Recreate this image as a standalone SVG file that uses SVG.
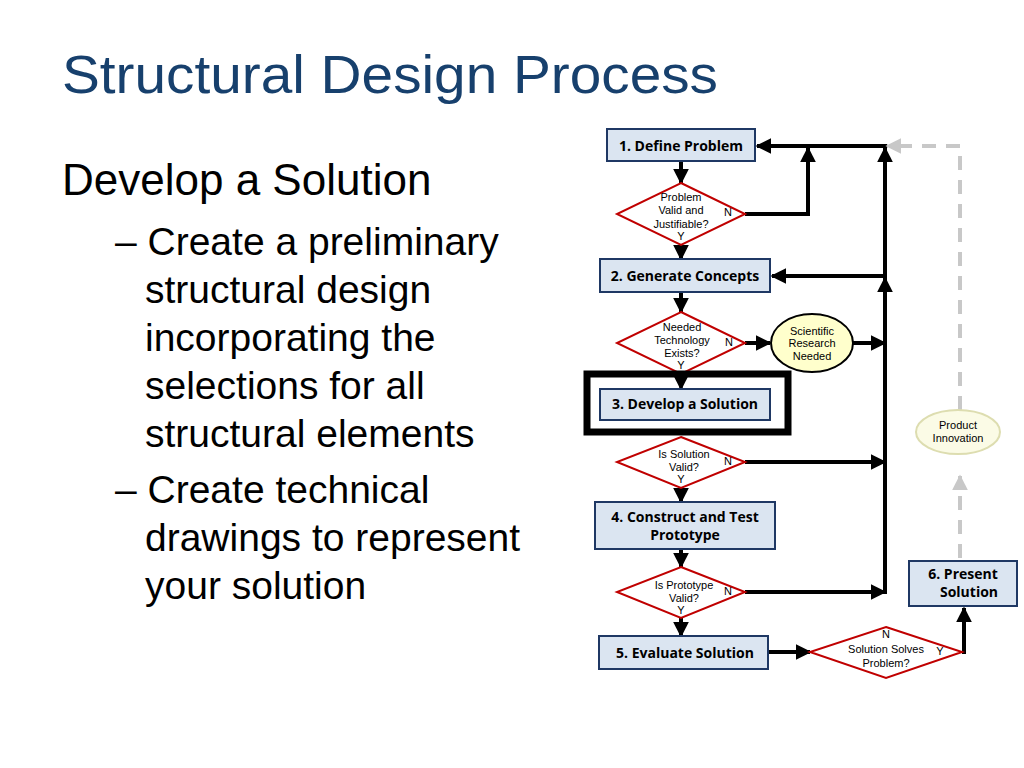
<svg xmlns="http://www.w3.org/2000/svg" width="1024" height="768" viewBox="0 0 1024 768">
<defs>
<marker id="a" viewBox="0 0 10 10" refX="9" refY="5" markerWidth="4" markerHeight="4" orient="auto"><path d="M0,0L10,5L0,10z" fill="#000"/></marker>
<marker id="g" viewBox="0 0 10 10" refX="9" refY="5" markerWidth="4" markerHeight="4" orient="auto"><path d="M0,0L10,5L0,10z" fill="#c8c8c8"/></marker>
<style>
.t{font-family:"Liberation Sans",Arial,sans-serif;fill:#000}
.box{fill:#dbe5f1;stroke:#1f3864;stroke-width:2}
.dia{fill:#fff;stroke:#c00000;stroke-width:2}
.bl{font-family:"Open Sans","Liberation Sans",sans-serif;font-weight:bold;font-size:14px;fill:#000;text-anchor:middle}
.dl{font-family:"Liberation Sans",sans-serif;font-size:11px;fill:#000;text-anchor:middle}
.c{fill:none;stroke:#000;stroke-width:4}
.ca{fill:none;stroke:#000;stroke-width:4;marker-end:url(#a)}
</style>
</defs>
<rect width="1024" height="768" fill="#fff"/>
<text x="62" y="93" font-family="Liberation Sans,Arial,sans-serif" font-size="54" fill="#17406d" textLength="656" lengthAdjust="spacingAndGlyphs">Structural Design Process</text>
<g class="t" font-size="44">
<text x="62" y="195">Develop a Solution</text>
</g>
<g class="t" font-size="39">
<text x="115" y="255">– Create a preliminary</text>
<text x="145" y="303">structural design</text>
<text x="145" y="351">incorporating the</text>
<text x="145" y="399">selections for all</text>
<text x="145" y="447">structural elements</text>
<text x="115" y="503">– Create technical</text>
<text x="145" y="551">drawings to represent</text>
<text x="145" y="599">your solution</text>
</g>
<g id="connectors">
<line class="ca" x1="681" y1="161" x2="681" y2="183"/>
<line class="ca" x1="681" y1="245" x2="681" y2="259"/>
<line class="ca" x1="681" y1="292" x2="681" y2="312"/>
<line x1="681" y1="372" x2="681" y2="389" stroke="#555" stroke-width="4" marker-end="url(#a)"/>
<line class="ca" x1="681" y1="488" x2="681" y2="502"/>
<line class="ca" x1="681" y1="549" x2="681" y2="567"/>
<line class="ca" x1="681" y1="618" x2="681" y2="636"/>
<polyline class="ca" points="745,214 808,214 808,148"/>
<line class="ca" x1="885" y1="146" x2="757" y2="146"/>
<line class="c" x1="885" y1="144" x2="885" y2="594"/>
<line class="ca" x1="885" y1="292" x2="885" y2="148"/>
<line class="ca" x1="885" y1="400" x2="885" y2="278"/>
<line class="ca" x1="885" y1="276" x2="772" y2="276"/>
<line class="ca" x1="745" y1="343" x2="770" y2="343"/>
<line class="ca" x1="853" y1="343" x2="885" y2="343"/>
<line class="ca" x1="745" y1="462" x2="885" y2="462"/>
<line class="ca" x1="745" y1="592" x2="885" y2="592"/>
<line class="ca" x1="768" y1="652" x2="810" y2="652"/>
<polyline class="ca" points="962,652 964,652 964,608"/>
<line x1="960" y1="558" x2="960" y2="476" stroke="#c8c8c8" stroke-width="4" stroke-dasharray="14,10" marker-end="url(#g)"/>
<polyline points="960,410 960,146 887,146" fill="none" stroke="#c8c8c8" stroke-width="4" stroke-dasharray="14,10" marker-end="url(#g)"/>
</g>
<g id="n1"><rect class="box" x="607" y="129" width="148" height="32"/><text class="bl" x="681" y="151">1. Define Problem</text></g>
<g id="d1"><polygon class="dia" points="681,183 745,214 681,245 617,214"/><text class="dl" x="681" y="201">Problem</text><text class="dl" x="681" y="214">Valid and</text><text class="dl" x="681" y="228">Justifiable?</text><text class="dl" x="681" y="240">Y</text><text class="dl" x="728" y="216">N</text></g>
<g id="n2"><rect class="box" x="600" y="259" width="170" height="33"/><text class="bl" x="685" y="281">2. Generate Concepts</text></g>
<g id="d2"><polygon class="dia" points="681,312 745,343 681,374 617,343"/><text class="dl" x="682" y="331">Needed</text><text class="dl" x="682" y="344">Technology</text><text class="dl" x="682" y="357">Exists?</text><text class="dl" x="681" y="369">Y</text><text class="dl" x="729" y="346">N</text></g>
<g id="sr"><ellipse cx="812" cy="343" rx="41" ry="29" fill="#ffffcc" stroke="#000" stroke-width="2"/><text class="dl" x="812" y="335">Scientific</text><text class="dl" x="812" y="347">Research</text><text class="dl" x="812" y="360">Needed</text></g>
<g id="n3"><rect x="587" y="374" width="201" height="58" fill="none" stroke="#000" stroke-width="7"/><rect class="box" x="600" y="389" width="170" height="31" stroke="#4a6a9a"/><text class="bl" x="685" y="409" fill="#222">3. Develop a Solution</text></g>
<g id="d3"><polygon class="dia" points="681,437 745,462 681,488 617,462"/><text class="dl" x="684" y="458">Is Solution</text><text class="dl" x="684" y="471">Valid?</text><text class="dl" x="681" y="483">Y</text><text class="dl" x="728" y="465">N</text></g>
<g id="n4"><rect class="box" x="595" y="502" width="180" height="47"/><text class="bl" x="685" y="522">4. Construct and Test</text><text class="bl" x="685" y="540">Prototype</text></g>
<g id="d4"><polygon class="dia" points="681,567 745,592 681,618 617,592"/><text class="dl" x="684" y="589">Is Prototype</text><text class="dl" x="684" y="602">Valid?</text><text class="dl" x="681" y="614">Y</text><text class="dl" x="728" y="595">N</text></g>
<g id="n5"><rect class="box" x="599" y="636" width="169" height="33"/><text class="bl" x="685" y="658">5. Evaluate Solution</text></g>
<g id="d5"><polygon class="dia" points="886,627 962,652 886,678 810,652"/><text class="dl" x="886" y="638">N</text><text class="dl" x="886" y="653">Solution Solves</text><text class="dl" x="886" y="667">Problem?</text><text class="dl" x="940" y="655">Y</text></g>
<g id="n6"><rect class="box" x="909" y="561" width="108" height="45"/><text class="bl" x="963" y="579">6. Present</text><text class="bl" x="969" y="597">Solution</text></g>
<g id="pi"><ellipse cx="958" cy="432" rx="42" ry="22" fill="#fbfbe6" stroke="#ddddb0" stroke-width="2"/><text class="dl" x="958" y="429" fill="#b0b0b0">Product</text><text class="dl" x="958" y="442" fill="#b0b0b0">Innovation</text></g>
</svg>
